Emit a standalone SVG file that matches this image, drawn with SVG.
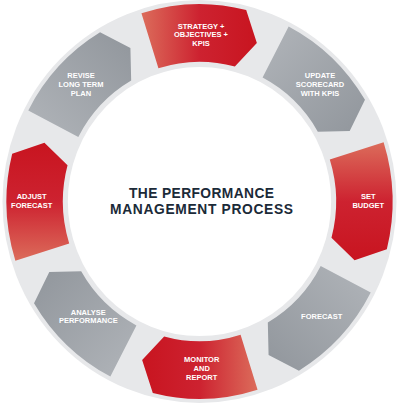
<svg xmlns="http://www.w3.org/2000/svg" width="400" height="403" viewBox="0 0 400 403">
  <style>
    .lbl { font-family: "Liberation Sans", Arial, sans-serif; font-weight: 700; font-size: 7.5px; fill: #ffffff; text-anchor: middle; }
    .title { font-family: "Liberation Sans", Arial, sans-serif; font-weight: 700; font-size: 13.8px; fill: #1b2a38; text-anchor: middle; }
    .red { fill: url(#gRed); }
    .grey { fill: url(#gGrey); }
  </style>
  <defs>
    <linearGradient id="gRed" gradientUnits="userSpaceOnUse" x1="-60" y1="0" x2="60" y2="0">
      <stop offset="0" stop-color="#dc6e5c"/>
      <stop offset="0.5" stop-color="#cd2230"/>
      <stop offset="1" stop-color="#c8141f"/>
    </linearGradient>
    <linearGradient id="gGrey" gradientUnits="userSpaceOnUse" x1="-60" y1="0" x2="60" y2="0">
      <stop offset="0" stop-color="#adb1b6"/>
      <stop offset="1" stop-color="#93989e"/>
    </linearGradient>
    <path id="seg" d="M -58.64,-185.98 A 195 195 0 0 1 47.17,-189.21 L 57.94,-156.63 L 35.72,-133.30 A 138 138 0 0 0 -41.50,-131.61 Z"/>
  </defs>
  <rect width="400" height="403" fill="#ffffff"/>
  <g id="ring" transform="translate(199.5,201.5) scale(0.99,1.012)">
    <circle cx="0" cy="0" r="166" fill="none" stroke="#e7e8ea" stroke-width="66"/>
  </g>
  <g id="connectors"></g>
  <g id="node-strategy">
    <use href="#seg" class="red" transform="translate(199.5,201.5) scale(0.99,1.012) rotate(0)"/>
    <text class="lbl" x="201" y="28.5">STRATEGY +</text>
    <text class="lbl" x="201" y="37.2">OBJECTIVES +</text>
    <text class="lbl" x="201" y="45.9">KPIS</text>
  </g>
  <g id="node-update">
    <use href="#seg" class="grey" transform="translate(199.5,201.5) scale(0.99,1.012) rotate(45)"/>
    <text class="lbl" x="320" y="78.3">UPDATE</text>
    <text class="lbl" x="320" y="87">SCORECARD</text>
    <text class="lbl" x="320" y="95.7">WITH KPIS</text>
  </g>
  <g id="node-budget">
    <use href="#seg" class="red" transform="translate(199.5,201.5) scale(0.99,1.012) rotate(90)"/>
    <text class="lbl" x="368.3" y="199.3">SET</text>
    <text class="lbl" x="368.3" y="208">BUDGET</text>
  </g>
  <g id="node-forecast">
    <use href="#seg" class="grey" transform="translate(199.5,201.5) scale(0.99,1.012) rotate(135)"/>
    <text class="lbl" x="321.7" y="319.3">FORECAST</text>
  </g>
  <g id="node-monitor">
    <use href="#seg" class="red" transform="translate(199.5,201.5) scale(0.99,1.012) rotate(180)"/>
    <text class="lbl" x="201.7" y="362.3">MONITOR</text>
    <text class="lbl" x="201.7" y="371">AND</text>
    <text class="lbl" x="201.7" y="379.7">REPORT</text>
  </g>
  <g id="node-analyse">
    <use href="#seg" class="grey" transform="translate(199.5,201.5) scale(0.99,1.012) rotate(225)"/>
    <text class="lbl" x="88.3" y="314.7">ANALYSE</text>
    <text class="lbl" x="88.3" y="323.4">PERFORMANCE</text>
  </g>
  <g id="node-adjust">
    <use href="#seg" class="red" transform="translate(199.5,201.5) scale(0.99,1.012) rotate(270)"/>
    <text class="lbl" x="31.7" y="199.3">ADJUST</text>
    <text class="lbl" x="31.7" y="208">FORECAST</text>
  </g>
  <g id="node-revise">
    <use href="#seg" class="grey" transform="translate(199.5,201.5) scale(0.99,1.012) rotate(315)"/>
    <text class="lbl" x="81" y="78.3">REVISE</text>
    <text class="lbl" x="81" y="87">LONG TERM</text>
    <text class="lbl" x="81" y="95.7">PLAN</text>
  </g>
  <g id="title">
    <text class="title" x="201.5" y="198.3" textLength="145" lengthAdjust="spacing">THE PERFORMANCE</text>
    <text class="title" x="201.5" y="214.3" textLength="183" lengthAdjust="spacing">MANAGEMENT PROCESS</text>
  </g>
</svg>
